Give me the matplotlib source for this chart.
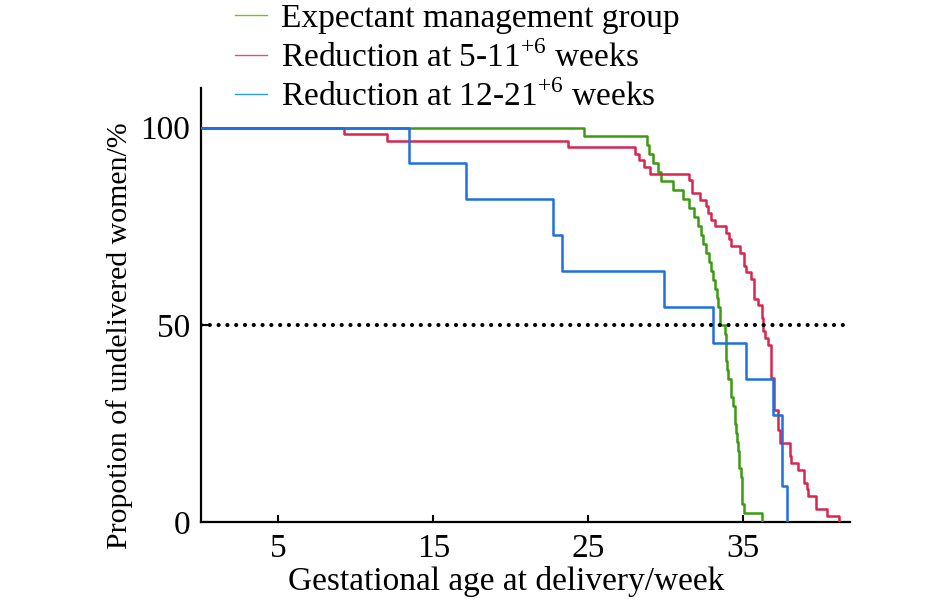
import matplotlib
matplotlib.use("Agg")
import matplotlib.pyplot as plt
from matplotlib.lines import Line2D
import numpy as np

plt.rcParams['font.family'] = ['Liberation Serif', 'DejaVu Serif']
plt.rcParams['mathtext.fontset'] = 'custom'
plt.rcParams['mathtext.rm'] = 'Liberation Serif'

# Delivery weeks (one entry per woman)
expectant_weeks = [24.7, 28.8, 28.9, 29.2, 29.5, 29.7, 30.5, 31.1, 31.5, 31.8,
                   32.1, 32.3, 32.4, 32.6, 32.8, 32.9, 33.05, 33.2, 33.3, 33.4,
                   33.5, 33.5, 33.85, 33.9, 33.9, 33.9, 33.95, 34.0, 34.2, 34.2,
                   34.35, 34.45, 34.5, 34.55, 34.6, 34.65, 34.7, 34.75, 34.85,
                   34.9, 34.9, 34.95, 35.05, 36.2]
early_weeks = [9.2, 12.0, 23.7, 28.0, 28.3, 28.6, 29.0, 31.5, 31.7, 31.7,
               32.2, 32.6, 32.7, 32.95, 33.2, 33.9, 34.1, 34.2, 34.8, 35.05,
               35.05, 35.2, 35.5, 35.7, 35.7, 35.7, 35.95, 36.2, 36.2, 36.3,
               36.3, 36.4, 36.6, 36.8, 36.8, 36.8, 36.8, 36.8, 37.0, 37.0,
               37.0, 37.0, 37.0, 37.25, 37.25, 37.25, 37.4, 37.4, 38.0, 38.0,
               38.1, 38.55, 38.9, 38.9, 39.1, 39.2, 39.7, 39.7, 40.4, 41.2]
late_weeks = [13.4, 17.1, 22.7, 23.3, 29.9, 33.05, 35.2, 36.9, 37.5, 37.5, 37.8]

group_labels = ['Expectant management group',
                r'Reduction at 5-11$^{\mathregular{+6}}$ weeks',
                r'Reduction at 12-21$^{\mathregular{+6}}$ weeks']
line_colors = ['#3c9a10', '#d8264f', '#1e6fe0']
legend_colors = ['#6cc22e', '#e0527f', '#2a9de0']
x_ticks = [5, 15, 25, 35]
y_ticks = [0, 50, 100]
median_level = 50


def km_curve(weeks):
    weeks = sorted(weeks)
    n = len(weeks)
    xs = [0.0] + weeks
    ys = [100.0] + [100.0 * (n - i - 1) / n for i in range(n)]
    return xs, ys


fig = plt.figure(figsize=(9.45, 6.05), dpi=100)
ax = fig.add_axes([0.2127, 0.1367, 0.6868, 0.7178])

for weeks, c in zip([expectant_weeks, early_weeks, late_weeks], line_colors):
    xs, ys = km_curve(weeks)
    ax.step(xs, ys, where='post', color=c, lw=1.8, zorder=3)

ax.plot([0, 41.9], [median_level, median_level], color='black', lw=3.0,
        linestyle=(0, (0.01, 2.1)), dash_capstyle='round', zorder=4)

ax.set_xlim(0, 41.9)
ax.set_ylim(0, 110)
ax.set_xticks(x_ticks)
ax.set_yticks(y_ticks)
for s in ['top', 'right']:
    ax.spines[s].set_visible(False)
for s in ['left', 'bottom']:
    ax.spines[s].set_linewidth(1.6)
ax.tick_params(direction='in', length=5, width=1.5, labelsize=24, pad=8)

ax.set_xlabel('Gestational age at delivery/week', fontsize=24)
ax.set_ylabel('Propotion of undelivered women/%', fontsize=21.5)
ax.xaxis.set_label_coords(0.47, -0.1)
ax.yaxis.set_label_coords(-0.105, 0.43)

handles = [Line2D([], [], color=c, lw=1.0) for c in legend_colors]
fig.legend(handles, group_labels, loc='upper left', bbox_to_anchor=(0.235, 1.016),
           frameon=False, fontsize=24, handlelength=0.96, handletextpad=0.42,
           labelspacing=0.2, borderaxespad=0)

fig.savefig('out.png', dpi=100)
